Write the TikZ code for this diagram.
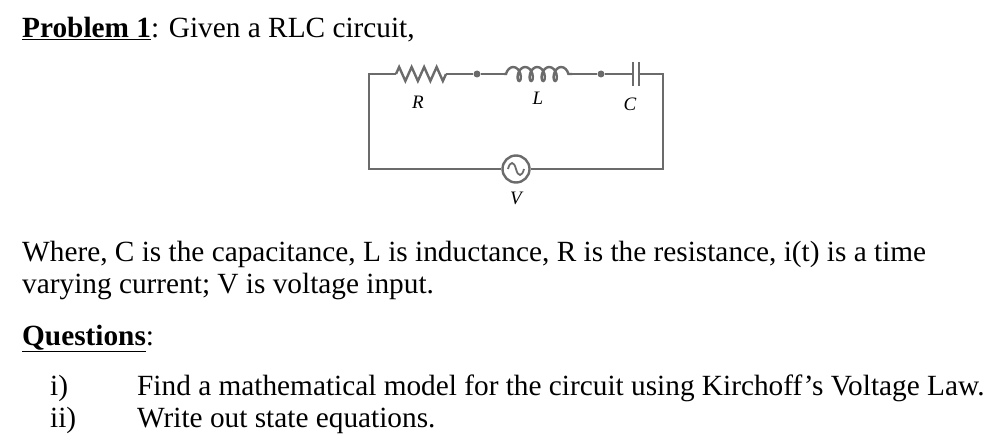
\documentclass[tikz,border=0pt]{standalone}
\usepackage{fontspec}
\setmainfont{Liberation Serif}
\usetikzlibrary{decorations.pathmorphing}
\definecolor{wire}{gray}{0.42}
\begin{document}
\begin{tikzpicture}[x=1pt,y=-1pt,
  txt/.style={anchor=base west,inner sep=0,font=\fontsize{29.3}{34}\selectfont},
  lab/.style={inner sep=0,font=\fontsize{19}{22}\selectfont\itshape},
  w/.style={draw=wire,line width=2.4pt},
  jdot/.style={circle,fill=wire,inner sep=0,minimum size=7pt}]
\useasboundingbox (0,0) rectangle (1006,441);
\node[txt] (t1) at (22,38) {\textbf{\underline{Problem 1}}: Given a RLC circuit,};
\node[txt] (t2) at (22,261) {Where, C is the capacitance, L is inductance, R is the resistance, i(t) is a time};
\node[txt] (t3) at (22,293) {varying current; V is voltage input.};
\node[txt] (t4) at (22,345) {\textbf{\underline{Questions}}:};
\node[txt] (q1) at (50,395) {i)};
\node[txt] (q2) at (50,427) {ii)};
\node[txt] (a1) at (137,395) {Find a mathematical model for the circuit using Kirchoff’s Voltage Law.};
\node[txt] (a2) at (137,427) {Write out state equations.};
% circuit
\coordinate (tl) at (369,74); \coordinate (tr) at (663,74);
\coordinate (bl) at (369,169); \coordinate (br) at (663,169);
\coordinate (r1) at (396,74); \coordinate (r2) at (446,74);
\node[jdot] (d1) at (477,74) {};
\coordinate (l1) at (504,74); \coordinate (l2) at (572,74);
\node[jdot] (d2) at (601,74) {};
\coordinate (c1) at (633,74); \coordinate (c2) at (639,74);
\node[circle,w,minimum size=27pt,inner sep=0] (src) at (516,169) {};
\draw[w] (c2) -- (tr) -- (br) -- (src.east);
\draw[w] (src.west) -- (bl) -- (tl) -- (r1);
\draw[w,decorate,decoration={zigzag,segment length=12.5pt,amplitude=7pt}] (r1) -- (r2);
\draw[w] (r2) -- (d1) -- (l1);
\draw[w,decorate,decoration={coil,aspect=0.6,segment length=12pt,amplitude=7pt,pre length=2pt,post length=2pt}] (l1) -- (l2);
\draw[w] (l2) -- (d2) -- (c1);
\draw[w] (633,62) -- (633,86); \draw[w] (639,62) -- (639,86);
\draw[draw=wire,line width=1.8pt] (508,169) .. controls (510,161) and (514,161) .. (516,169) .. controls (518,177) and (522,177) .. (524,169);
\node[lab] (R) at (418,102) {R};
\node[lab] (L) at (538,98) {L};
\node[lab] (C) at (630,104) {C};
\node[lab] (V) at (516,198) {V};
\end{tikzpicture}
\end{document}
